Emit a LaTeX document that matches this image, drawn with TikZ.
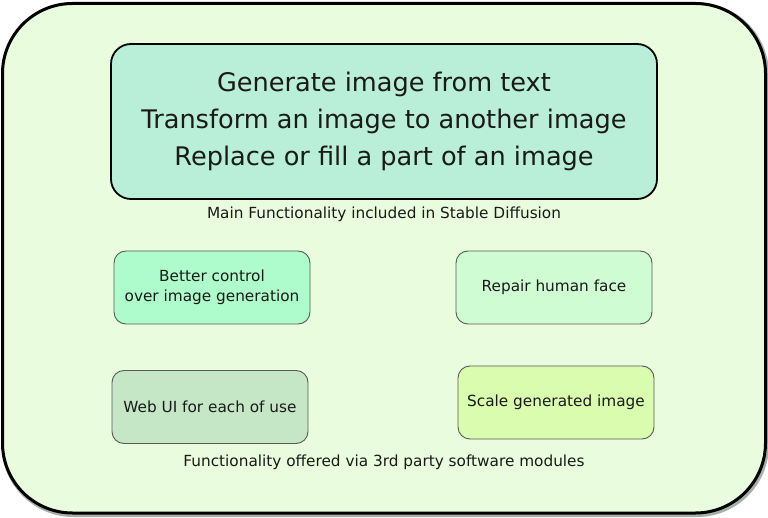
\documentclass[tikz,border=0pt]{standalone}
\usepackage{fontspec}
\setmainfont{DejaVu Sans}
\definecolor{outerfill}{HTML}{E9FCDD}
\definecolor{mainfill}{HTML}{B9EED8}
\definecolor{fa}{HTML}{AEFCCB}
\definecolor{fb}{HTML}{CFFCD3}
\definecolor{fc}{HTML}{C5E7C6}
\definecolor{fd}{HTML}{DAFCAF}
\definecolor{txt}{HTML}{1A1A1A}
\tikzset{
  smallbox/.style={draw=black!65, line width=0.9pt, rounded corners=12pt, minimum width=196pt, minimum height=73pt, inner sep=0pt, align=center, text=txt, font=\fontsize{15.3}{19.5}\selectfont},
  caption/.style={text=txt, font=\fontsize{15.3}{18}\selectfont, inner sep=0pt},
}
\begin{document}
\begin{tikzpicture}[x=1pt,y=-1pt]
\useasboundingbox (0,0) rectangle (768,518);
\fill[white] (0,0) rectangle (768,518);
\draw[black!60!green!30!black, line width=4pt, opacity=0.35, rounded corners=70pt] (3.5,4.5) rectangle (767,515);
\draw[fill=outerfill, draw=black, line width=3pt, rounded corners=70pt] (2.5,3.5) rectangle (765.5,513);
\node[draw=black, line width=1.8pt, fill=mainfill, rounded corners=20pt, minimum width=546pt, minimum height=155pt, inner sep=0pt, align=center, text=txt, font=\fontsize{25.6}{37}\selectfont] (main) at (384,121.5) {Generate image from text\\Transform an image to another image\\Replace or fill a part of an image};
\node[caption] (cap1) at (384,214) {Main Functionality included in Stable Diffusion};
\node[smallbox, fill=fa] (b1) at (212,287.5) {Better control\\over image generation};
\node[smallbox, fill=fb] (b2) at (554,287.5) {Repair human face};
\node[smallbox, fill=fc] (b3) at (210,407) {Web UI for each of use};
\node[smallbox, fill=fd] (b4) at (556,402.5) {Scale generated image};
\node[caption] (cap2) at (384,462) {Functionality offered via 3rd party software modules};
\end{tikzpicture}
\end{document}
